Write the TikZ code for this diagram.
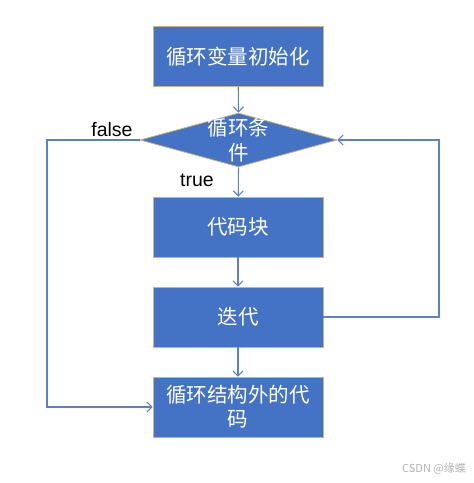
\documentclass[tikz,border=0pt]{standalone}
\usepackage{fontspec}
\setmainfont{Liberation Sans}
\newfontfamily\cjk{Noto Sans CJK SC}
\usepackage{tikz}
\usetikzlibrary{shapes.geometric, arrows, arrows.meta, positioning, calc}

\definecolor{boxblue}{HTML}{4472C4}
\definecolor{boxedge}{HTML}{C8B47E}
\definecolor{lineblue}{HTML}{5B80CC}

\tikzset{
    flowbox/.style={rectangle, fill=boxblue, draw=boxedge, line width=0.8pt,
        minimum width=170pt, minimum height=60pt, inner sep=0pt,
        text=white, font=\cjk\fontsize{20.5}{24}\selectfont, align=center},
    cond/.style={diamond, fill=boxblue, draw=boxedge, line width=0.8pt,
        minimum width=197pt, minimum height=54pt, inner sep=0pt},
    flowline/.style={draw=lineblue, line width=1.1pt,
        -{Straight Barb[length=5pt,width=10pt]}},
    lbl/.style={font=\fontsize{19.5}{22}\selectfont}
}

\begin{document}
\begin{tikzpicture}[x=1pt, y=-1pt]
    \useasboundingbox (0,0) rectangle (474,483);
    \node[flowbox] (init) at (238,56.5) {循环变量初始化};
    \node[cond] (cond) at (238.5,140) {};
    \node[text=white, font=\cjk\fontsize{20.5}{25}\selectfont, align=center] (condtxt) at (238.5,140) {循环条\\件};
    \node[flowbox] (body) at (238,227) {代码块};
    \node[flowbox] (iter) at (238,317) {迭代};
    \node[flowbox] (after) at (238,407) {循环结构外的代\\码};
    % connectors
    \draw[flowline] (init) -- (cond.north);
    \draw[flowline] (cond.south) -- (body);
    \draw[flowline] (body) -- (iter);
    \draw[flowline] (iter) -- (after);
    \draw[flowline] (cond.west) -- (47,140) |- (after.west);
    \draw[flowline] (iter.east) -- (439,317) |- (cond.east);
    % labels
    \node[lbl] (falselbl) at (112,130) {false};
    \node[lbl] (truelbl) at (197,180) {true};
    \node[font=\cjk\fontsize{11}{12}\selectfont, text=black!30] (mark) at (434,469) {CSDN @缘蝶};
\end{tikzpicture}
\end{document}
